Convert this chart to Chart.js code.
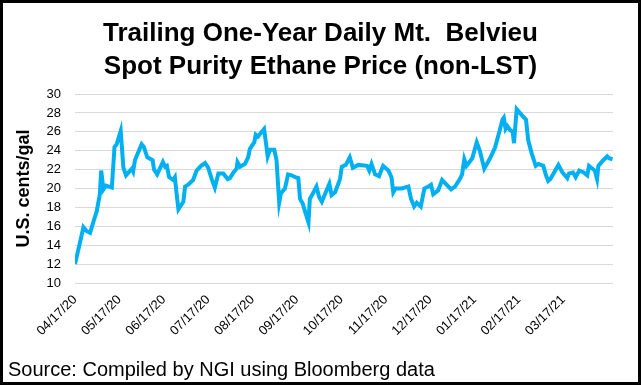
<!DOCTYPE html>
<html>
<head>
<meta charset="utf-8">
<script src="https://cdn.jsdelivr.net/npm/chart.js@4/dist/chart.umd.min.js"></script>
<style>
    html, body { margin: 0; padding: 0; background: #fff; }
    #frame { width: 641px; height: 385px; box-sizing: border-box; border: 3px solid #000; }
    canvas { display: block; }
</style>
</head>
<body>
<div id="frame"><canvas id="myChart" width="635" height="379"></canvas></div>
<script>
// month ticks (one per month, the 17th)
var tickLabels = ['04/17/20', '05/17/20', '06/17/20', '07/17/20', '08/17/20', '09/17/20',
    '10/17/20', '11/17/20', '12/17/20', '01/17/21', '02/17/21', '03/17/21'];

// position in months since 04/17/20
var priceMonth = [0, 0.19, 0.26, 0.34, 0.41, 0.49, 0.56, 0.59, 0.64, 0.70, 0.83, 0.89, 0.94, 1.03,
    1.09, 1.15, 1.28, 1.31, 1.35, 1.50, 1.55, 1.63, 1.75, 1.78, 1.85, 1.98, 2.03, 2.07, 2.12, 2.21,
    2.25, 2.29, 2.33, 2.44, 2.48, 2.55, 2.66, 2.74, 2.84, 2.93, 3.00, 3.08, 3.15, 3.23, 3.34, 3.44,
    3.49, 3.57, 3.64, 3.66, 3.72, 3.83, 3.90, 3.94, 4.04, 4.07, 4.12, 4.26, 4.30, 4.34, 4.39, 4.49,
    4.54, 4.60, 4.64, 4.73, 4.80, 4.88, 4.96, 5.03, 5.07, 5.13, 5.20, 5.26, 5.29, 5.35, 5.44, 5.50,
    5.56, 5.63, 5.73, 5.78, 5.86, 5.97, 6.01, 6.10, 6.19, 6.26, 6.38, 6.58, 6.63, 6.68, 6.76, 6.85,
    6.94, 7.06, 7.13, 7.17, 7.22, 7.36, 7.51, 7.57, 7.64, 7.70, 7.79, 7.87, 7.96, 8.02, 8.07, 8.18,
    8.27, 8.37, 8.47, 8.56, 8.67, 8.72, 8.77, 8.82, 8.95, 9.05, 9.12, 9.22, 9.35, 9.46, 9.56, 9.63,
    9.66, 9.70, 9.74, 9.80, 9.86, 9.89, 9.95, 10.06, 10.16, 10.21, 10.29, 10.38, 10.44, 10.55, 10.61,
    10.66, 10.71, 10.89, 10.98, 11.09, 11.13, 11.22, 11.28, 11.36, 11.46, 11.54, 11.58, 11.71, 11.76,
    11.79, 11.90, 11.99, 12.03, 12.11];

// cents per gallon
var priceValue = [12.0, 15.9, 15.5, 15.3, 16.4, 17.6, 19.4, 21.9, 19.9, 20.3, 20.1, 24.4, 24.7, 26.1,
    22.2, 21.4, 22.1, 21.8, 23.0, 24.7, 24.4, 23.3, 23.0, 22.0, 21.5, 22.8, 22.3, 22.4, 21.2, 20.9,
    21.2, 19.4, 17.8, 18.6, 20.2, 20.4, 20.9, 21.9, 22.4, 22.7, 22.2, 21.0, 20.1, 21.6, 21.6, 21.0,
    21.1, 21.7, 22.1, 22.8, 22.3, 22.6, 23.3, 24.2, 24.9, 25.7, 25.5, 26.3, 24.9, 23.4, 24.1, 24.1,
    23.0, 18.5, 19.5, 20.0, 21.5, 21.4, 21.2, 21.1, 18.9, 18.4, 17.3, 16.4, 18.9, 19.4, 20.2, 19.1,
    18.6, 19.4, 20.5, 19.3, 19.6, 21.0, 22.3, 22.5, 23.3, 22.2, 22.5, 22.4, 21.9, 22.6, 21.5, 21.3,
    22.4, 21.9, 21.2, 19.6, 20.0, 20.0, 20.2, 18.9, 18.1, 18.5, 18.1, 20.0, 20.2, 20.4, 19.4, 19.8,
    20.9, 20.4, 19.9, 20.2, 21.0, 21.5, 23.1, 22.4, 23.2, 24.9, 24.0, 22.1, 23.2, 24.3, 26.0, 27.3,
    27.5, 26.3, 26.6, 26.2, 26.0, 24.8, 28.4, 27.8, 27.3, 25.1, 23.7, 22.4, 22.6, 22.4, 21.4,
    20.8, 21.0, 22.5, 21.7, 21.1, 21.6, 21.7, 21.2, 21.9, 21.7, 21.4, 22.4, 21.9, 21.0,
    22.4, 23.0, 23.4, 23.2, 23.1];

var yTicks = [10, 12, 14, 16, 18, 20, 22, 24, 26, 28, 30];

var points = priceMonth.map(function (m, i) {
    return { x: m, y: priceValue[i] };
});

var font = 'Liberation Sans, Arial, sans-serif';

var ctx = document.getElementById('myChart').getContext('2d');
var chart = new Chart(ctx, {
    type: 'line',
    data: {
        datasets: [{
            label: 'Mt. Belvieu ethane',
            data: points,
            borderColor: '#00b0f0',
            borderWidth: 4,
            pointRadius: 0,
            fill: false,
            tension: 0
        }]
    },
    options: {
        responsive: false,
        animation: false,
        layout: { padding: { left: 5, right: 5, top: 0, bottom: 0 } },
        plugins: {
            legend: { display: false },
            tooltip: { enabled: false },
            title: {
                display: true,
                text: ['Trailing One-Year Daily Mt.  Belvieu', 'Spot Purity Ethane Price (non-LST)'],
                color: '#000',
                font: { family: font, size: 26, weight: 'bold', lineHeight: 1.27 },
                padding: { top: 14, bottom: 11 }
            },
            subtitle: {
                display: true,
                position: 'bottom',
                align: 'start',
                text: 'Source: Compiled by NGI using Bloomberg data',
                color: '#000',
                font: { family: font, size: 20, lineHeight: 1.2 },
                padding: { top: 0, bottom: 0 }
            }
        },
        scales: {
            x: {
                type: 'linear',
                min: 0,
                max: 12.12,
                afterBuildTicks: function (scale) {
                    scale.ticks = tickLabels.map(function (l, i) { return { value: i }; });
                },
                afterFit: function (scale) { scale.height = 75; },
                grid: { display: false, drawTicks: false },
                border: { display: false },
                ticks: {
                    autoSkip: false,
                    maxRotation: 45,
                    minRotation: 45,
                    padding: 9,
                    color: '#000',
                    font: { family: font, size: 13 },
                    callback: function (v) { return tickLabels[v]; }
                }
            },
            y: {
                min: 10,
                max: 30,
                afterBuildTicks: function (scale) {
                    scale.ticks = yTicks.map(function (v) { return { value: v }; });
                },
                afterFit: function (scale) { scale.width = 67; },
                grid: { color: '#d9d9d9', lineWidth: 1, drawTicks: false },
                border: { display: false },
                title: {
                    display: true,
                    text: 'U.S. cents/gal',
                    color: '#000',
                    font: { family: font, size: 18, weight: 'bold' },
                    padding: { top: 5, bottom: 0 }
                },
                ticks: {
                    padding: 14,
                    color: '#000',
                    font: { family: font, size: 13 }
                }
            },
            // empty spacer on the right so the plot ends where the original does
            spacer: {
                position: 'right',
                afterFit: function (scale) { scale.width = 20; },
                grid: { display: false, drawTicks: false },
                border: { display: false },
                ticks: { display: false }
            }
        }
    }
});
</script>
</body>
</html>
